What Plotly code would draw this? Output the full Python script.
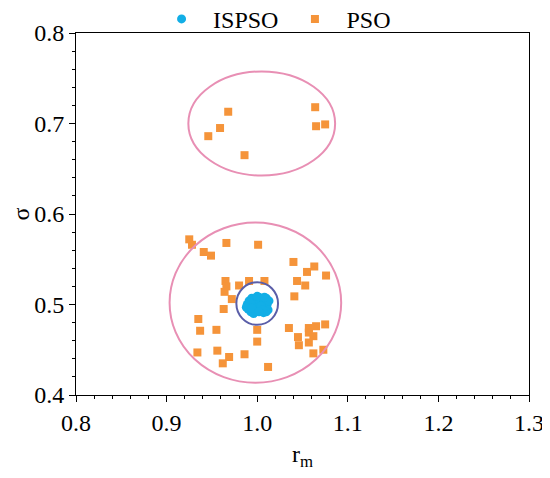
import plotly.graph_objects as go

# PSO results (r_m, sigma)
pso_x = [0.968, 0.959, 0.946, 0.986, 1.064, 1.065, 1.075,
         0.925, 0.928, 0.941, 0.949, 0.966, 1.001, 1.040, 1.063, 1.055, 1.076,
         1.044, 1.053, 1.041, 0.965, 0.966, 0.964, 0.980, 0.991, 1.008, 0.972,
         0.963, 0.935, 0.937, 0.955, 1.000, 1.000, 1.035, 1.045, 1.057, 1.065,
         1.075, 1.057, 1.062, 1.057, 1.046, 0.934, 0.956, 0.969, 0.962, 0.986,
         1.012, 1.062, 1.073]
pso_y = [0.713, 0.695, 0.686, 0.665, 0.718, 0.697, 0.699,
         0.572, 0.566, 0.558, 0.554, 0.568, 0.566, 0.547, 0.542, 0.536, 0.532,
         0.526, 0.521, 0.509, 0.526, 0.520, 0.514, 0.521, 0.526, 0.526, 0.506,
         0.495, 0.484, 0.471, 0.472, 0.472, 0.459, 0.474, 0.464, 0.474, 0.476,
         0.478, 0.469, 0.465, 0.458, 0.455, 0.447, 0.449, 0.442, 0.435, 0.445,
         0.431, 0.446, 0.450]

# ISPSO results
ispso_x = [0.989, 0.990, 0.991, 0.992, 0.993, 0.994, 0.995, 0.996, 0.997, 0.998,
           0.999, 1.000, 1.001, 1.002, 1.003, 1.004, 1.005, 1.006, 1.007, 1.008,
           1.009, 1.010, 1.011, 1.012, 1.013, 0.992, 0.996, 1.000, 1.004, 1.008,
           0.988, 1.010, 0.994, 1.006, 1.002]
ispso_y = [0.500, 0.495, 0.504, 0.498, 0.492, 0.507, 0.501, 0.496, 0.505, 0.499,
           0.493, 0.503, 0.497, 0.508, 0.501, 0.494, 0.505, 0.499, 0.491, 0.503,
           0.496, 0.507, 0.500, 0.494, 0.504, 0.502, 0.490, 0.509, 0.498, 0.508,
           0.497, 0.492, 0.496, 0.494, 0.492]

# ellipses: center x, center y, radius x, radius y
ring_cx = [1.005, 0.998, 1.000]
ring_cy = [0.700, 0.502, 0.501]
ring_rx = [0.081, 0.0947, 0.023]
ring_ry = [0.0575, 0.0885, 0.0235]
ring_col = ["#E88FB4", "#E88FB4", "#5A5EA8"]

fig = go.Figure()
fig.add_trace(go.Scatter(x=pso_x, y=pso_y, mode="markers", name="PSO",
                         marker=dict(symbol="square", size=8, color="#F5943A")))
fig.add_trace(go.Scatter(x=ispso_x, y=ispso_y, mode="markers", name="ISPSO",
                         marker=dict(symbol="circle", size=9, color="#12AEE6")))

for cx, cy, rx, ry, c in zip(ring_cx, ring_cy, ring_rx, ring_ry, ring_col):
    fig.add_shape(type="circle", xref="x", yref="y",
                  x0=cx - rx, x1=cx + rx, y0=cy - ry, y1=cy + ry,
                  line=dict(color=c, width=2))

serif = "Liberation Serif, Times New Roman, serif"
font = dict(family=serif, size=24, color="black")
axis = dict(showline=True, linecolor="black", linewidth=1, mirror=True,
            ticks="outside", ticklen=6, tickcolor="black", showgrid=False,
            zeroline=False, tickfont=font, automargin=False,
            minor=dict(ticks="outside", ticklen=3, tickcolor="black"))

# page body has an 8px margin, so the figure is drawn 8px smaller
fig.update_layout(
    width=542, height=470,
    margin=dict(l=68, r=21, t=25, b=83, autoexpand=False),
    plot_bgcolor="white", paper_bgcolor="white",
    font=font,
    showlegend=True,
    legend=dict(orientation="h", x=0.435, xanchor="center",
                yref="container", y=0.976, yanchor="middle",
                traceorder="reversed", font=font,
                itemwidth=53, bgcolor="rgba(0,0,0,0)"),
    xaxis=dict(axis, range=[0.8, 1.3], dtick=0.1, tickformat=".1f",
               title=dict(text="r<sub>m</sub>", font=font, standoff=10)),
    yaxis=dict(axis, range=[0.4, 0.8], dtick=0.1, tickformat=".1f",
               title=dict(text="σ", font=font, standoff=8)),
)

fig.write_html("out.html")
